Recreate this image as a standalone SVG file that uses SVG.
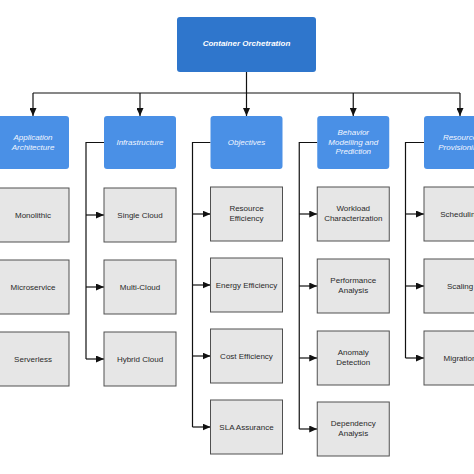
<svg xmlns="http://www.w3.org/2000/svg" width="474" height="474" viewBox="0 0 474 474">
<style>
text{font-family:"Liberation Sans",Arial,sans-serif;font-size:8px;text-anchor:middle}
.top rect{fill:#2f76cc}
.top text{fill:#ffffff;font-weight:bold;font-style:italic}
.cat rect{fill:#4a90e6}
.cat text{fill:#f2f6ff;font-style:italic}
.leaf rect{fill:#e6e6e6;stroke:#505050;stroke-width:1}
.leaf text{fill:#2a2a2a}
.conn path,.conn line{fill:none;stroke:#111;stroke-width:1.2}
</style>
<defs>
<marker id="ah" markerUnits="userSpaceOnUse" markerWidth="8" markerHeight="7" refX="8" refY="3.5" orient="auto">
<path d="M0,0 L8,3.5 L0,7 z" fill="#111"/>
</marker>
</defs>
<rect width="474" height="474" fill="#ffffff"/>
<g id="connectors" class="conn">
<path d="M246.5,72 V93"/>
<path d="M33,93 H460"/>
<line x1="33" y1="93" x2="33" y2="116" marker-end="url(#ah)"/>
<line x1="140" y1="93" x2="140" y2="116" marker-end="url(#ah)"/>
<line x1="246.5" y1="93" x2="246.5" y2="116" marker-end="url(#ah)"/>
<line x1="353.25" y1="93" x2="353.25" y2="116" marker-end="url(#ah)"/>
<line x1="460" y1="93" x2="460" y2="116" marker-end="url(#ah)"/>
<path d="M104,142.5 H86 V359"/>
<line x1="86" y1="215" x2="104" y2="215" marker-end="url(#ah)"/>
<line x1="86" y1="287" x2="104" y2="287" marker-end="url(#ah)"/>
<line x1="86" y1="359" x2="104" y2="359" marker-end="url(#ah)"/>
<path d="M210.5,142.5 H192.5 V427"/>
<line x1="192.5" y1="214" x2="210.5" y2="214" marker-end="url(#ah)"/>
<line x1="192.5" y1="285" x2="210.5" y2="285" marker-end="url(#ah)"/>
<line x1="192.5" y1="356" x2="210.5" y2="356" marker-end="url(#ah)"/>
<line x1="192.5" y1="427" x2="210.5" y2="427" marker-end="url(#ah)"/>
<path d="M317.25,142.5 H299.25 V429"/>
<line x1="299.25" y1="214" x2="317.25" y2="214" marker-end="url(#ah)"/>
<line x1="299.25" y1="286" x2="317.25" y2="286" marker-end="url(#ah)"/>
<line x1="299.25" y1="358" x2="317.25" y2="358" marker-end="url(#ah)"/>
<line x1="299.25" y1="429" x2="317.25" y2="429" marker-end="url(#ah)"/>
<path d="M424,142.5 H405.5 V358"/>
<line x1="405.5" y1="214" x2="424" y2="214" marker-end="url(#ah)"/>
<line x1="405.5" y1="286" x2="424" y2="286" marker-end="url(#ah)"/>
<line x1="405.5" y1="358" x2="424" y2="358" marker-end="url(#ah)"/>
</g>
<g id="container-orchestration" class="top"><rect x="177" y="17" width="139" height="55" rx="3"/><text x="246.5" y="46">Container Orchetration</text></g>
<g id="application-architecture" class="cat"><rect x="-3" y="116" width="72" height="53" rx="3"/><text x="33" y="140">Application</text><text x="33" y="150">Architecture</text></g>
<g id="infrastructure" class="cat"><rect x="104" y="116" width="72" height="53" rx="3"/><text x="140" y="145">Infrastructure</text></g>
<g id="objectives" class="cat"><rect x="210.5" y="116" width="72" height="53" rx="3"/><text x="246.5" y="145">Objectives</text></g>
<g id="behavior-modelling" class="cat"><rect x="317.25" y="116" width="72" height="53" rx="3"/><text x="353.25" y="135">Behavior</text><text x="353.25" y="144.5">Modelling and</text><text x="353.25" y="154">Prediction</text></g>
<g id="resource-provisioning" class="cat"><rect x="424" y="116" width="72" height="53" rx="3"/><text x="460" y="140">Resource</text><text x="460" y="150">Provisioning</text></g>
<g id="monolithic" class="leaf"><rect x="-3" y="188" width="72" height="54"/><text x="33" y="218">Monolithic</text></g>
<g id="microservice" class="leaf"><rect x="-3" y="260" width="72" height="54"/><text x="33" y="290">Microservice</text></g>
<g id="serverless" class="leaf"><rect x="-3" y="332" width="72" height="54"/><text x="33" y="362">Serverless</text></g>
<g id="single-cloud" class="leaf"><rect x="104" y="188" width="72" height="54"/><text x="140" y="218">Single Cloud</text></g>
<g id="multi-cloud" class="leaf"><rect x="104" y="260" width="72" height="54"/><text x="140" y="290">Multi-Cloud</text></g>
<g id="hybrid-cloud" class="leaf"><rect x="104" y="332" width="72" height="54"/><text x="140" y="362">Hybrid Cloud</text></g>
<g id="resource-efficiency" class="leaf"><rect x="210.5" y="187" width="72" height="54"/><text x="246.5" y="211">Resource</text><text x="246.5" y="220.5">Efficiency</text></g>
<g id="energy-efficiency" class="leaf"><rect x="210.5" y="258" width="72" height="54"/><text x="246.5" y="288">Energy Efficiency</text></g>
<g id="cost-efficiency" class="leaf"><rect x="210.5" y="329" width="72" height="54"/><text x="246.5" y="359">Cost Efficiency</text></g>
<g id="sla-assurance" class="leaf"><rect x="210.5" y="400" width="72" height="54"/><text x="246.5" y="430">SLA Assurance</text></g>
<g id="workload-characterization" class="leaf"><rect x="317.25" y="187" width="72" height="54"/><text x="353.25" y="211">Workload</text><text x="353.25" y="220.5">Characterization</text></g>
<g id="performance-analysis" class="leaf"><rect x="317.25" y="259" width="72" height="54"/><text x="353.25" y="283">Performance</text><text x="353.25" y="292.5">Analysis</text></g>
<g id="anomaly-detection" class="leaf"><rect x="317.25" y="331" width="72" height="54"/><text x="353.25" y="355">Anomaly</text><text x="353.25" y="364.5">Detection</text></g>
<g id="dependency-analysis" class="leaf"><rect x="317.25" y="402" width="72" height="54"/><text x="353.25" y="426">Dependency</text><text x="353.25" y="435.5">Analysis</text></g>
<g id="scheduling" class="leaf"><rect x="424" y="187" width="72" height="54"/><text x="460" y="217">Scheduling</text></g>
<g id="scaling" class="leaf"><rect x="424" y="259" width="72" height="54"/><text x="460" y="289">Scaling</text></g>
<g id="migration" class="leaf"><rect x="424" y="331" width="72" height="54"/><text x="460" y="361">Migration</text></g>
</svg>
